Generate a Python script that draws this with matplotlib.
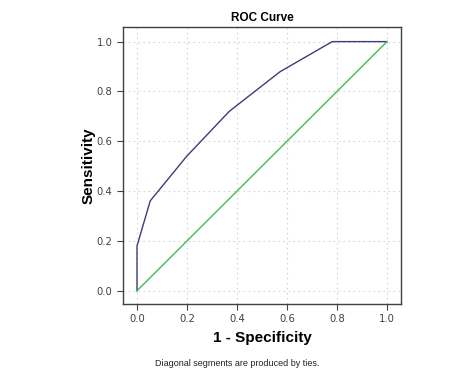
import matplotlib
matplotlib.use('Agg')
import matplotlib.pyplot as plt

# ROC curve points (1 - specificity, sensitivity)
fpr = [0.0, 0.0, 0.053, 0.199, 0.369, 0.572, 0.781, 1.0]
tpr = [0.0, 0.18, 0.361, 0.540, 0.720, 0.879, 1.0, 1.0]
ref_x = [0.0, 1.0]
ref_y = [0.0, 1.0]
ticks = [0.0, 0.2, 0.4, 0.6, 0.8, 1.0]

fig = plt.figure(figsize=(4.74, 3.79), dpi=100)
ax = fig.add_axes([0.2595, 0.198, 0.5865, 0.731])

ax.plot(fpr, tpr, color='#3f3b78', linewidth=1.0)
ax.plot(ref_x, ref_y, color='#3dbb5c', linewidth=1.0)

ax.set_xlim(-0.056, 1.056)
ax.set_ylim(-0.053, 1.059)
ax.set_xticks(ticks)
ax.set_yticks(ticks)
ax.set_xticklabels([f'{t:.1f}' for t in ticks])
ax.set_yticklabels([f'{t:.1f}' for t in ticks])
ax.grid(True, linestyle=(0, (1.5, 3)), color='#d4d4d4', linewidth=0.8)
ax.set_axisbelow(True)

for s in ax.spines.values():
    s.set_color('#404040')
    s.set_linewidth(1.0)
ax.tick_params(direction='out', length=4, width=0.8, color='#404040',
               labelsize=7.2, labelcolor='#404040', top=False, right=False)

ax.set_title('ROC Curve', fontsize=8.5, fontweight='bold', family='Liberation Sans', pad=4)
ax.set_xlabel('1 - Specificity', fontsize=11, fontweight='bold', family='Liberation Sans', labelpad=5)
ax.set_ylabel('Sensitivity', fontsize=11, fontweight='bold', family='Liberation Sans', labelpad=1)

fig.text(0.5, 0.04, 'Diagonal segments are produced by ties.', ha='center', va='center',
         fontsize=6.5, color='#222222', family='Liberation Sans')

fig.savefig('out.png', dpi=100, facecolor='white')
